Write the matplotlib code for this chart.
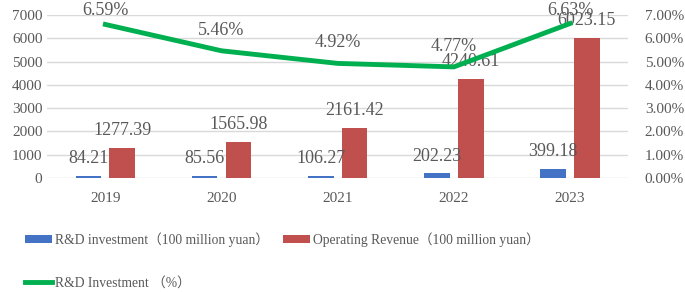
import matplotlib
matplotlib.use("Agg")
import matplotlib.pyplot as plt
import numpy as np

years = ["2019", "2020", "2021", "2022", "2023"]
rd_investment = [84.21, 85.56, 106.27, 202.23, 399.18]
revenue = [1277.39, 1565.98, 2161.42, 4240.61, 6023.15]
rd_ratio = [6.59, 5.46, 4.92, 4.77, 6.63]

plt.rcParams["font.family"] = ["Liberation Serif", "Noto Sans CJK SC"]
GRAY = "#595959"
BLUE = "#4472C4"
RED = "#C0504D"
GREEN = "#00B050"

fig = plt.figure(figsize=(6.85, 2.92), dpi=100)
ax = fig.add_axes([0.069, 0.39, 0.848, 0.559])
x = np.arange(len(years))
w = 0.22
off = 0.145

b1 = ax.bar(x - off, rd_investment, w, color=BLUE, label="R&D investment（100 million yuan）", zorder=2)
b2 = ax.bar(x + off, revenue, w, color=RED, label="Operating Revenue（100 million yuan）", zorder=2)
for xi, v in zip(x, rd_investment):
    ax.annotate(f"{v:.2f}", (xi - off, v), xytext=(0, 12.5), textcoords="offset points",
                ha="center", va="center", fontsize=13, color=GRAY)
for xi, v in zip(x, revenue):
    ax.annotate(f"{v:.2f}", (xi + off, v), xytext=(0, 12.5), textcoords="offset points",
                ha="center", va="center", fontsize=13, color=GRAY)

ax.set_ylim(0, 7000)
ax.set_yticks(range(0, 7001, 1000))
ax.set_xlim(-0.5, len(years) - 0.5)
ax.set_xticks(x)
ax.set_xticklabels(years)
ax.grid(axis="y", color="#D9D9D9", linewidth=1, zorder=0)
for s in ax.spines.values():
    s.set_visible(False)
ax.tick_params(length=0, colors=GRAY, labelsize=11)
ax.tick_params(axis="x", pad=10)

ax2 = ax.twinx()
ln, = ax2.plot(x, rd_ratio, color=GREEN, linewidth=3.5, label="R&D Investment （%）", zorder=3)
for xi, v in zip(x, rd_ratio):
    # label sits above the point, pushed down where it would leave the chart
    ax2.text(xi, min(v + 0.88, 7.2), f"{v:.2f}%", ha="center", va="center",
             fontsize=13, color=GRAY, clip_on=False)
ax2.set_ylim(0, 7)
ax2.set_yticks(range(0, 8))
ax2.set_yticklabels([f"{t:.2f}%" for t in range(0, 8)])
for s in ax2.spines.values():
    s.set_visible(False)
ax2.tick_params(length=0, colors=GRAY, labelsize=11, pad=12)

fig.legend([b1, ln, b2],
           [b1.get_label(), ln.get_label(), b2.get_label()],
           ncol=2, loc="upper left", bbox_to_anchor=(0.0365, 0.205),
           frameon=False, fontsize=9.8, labelcolor=GRAY,
           borderpad=0, borderaxespad=0,
           handlelength=2.0, handleheight=0.5, handletextpad=0.2,
           columnspacing=1.0, labelspacing=2.2)

fig.savefig("out.png", dpi=100)
